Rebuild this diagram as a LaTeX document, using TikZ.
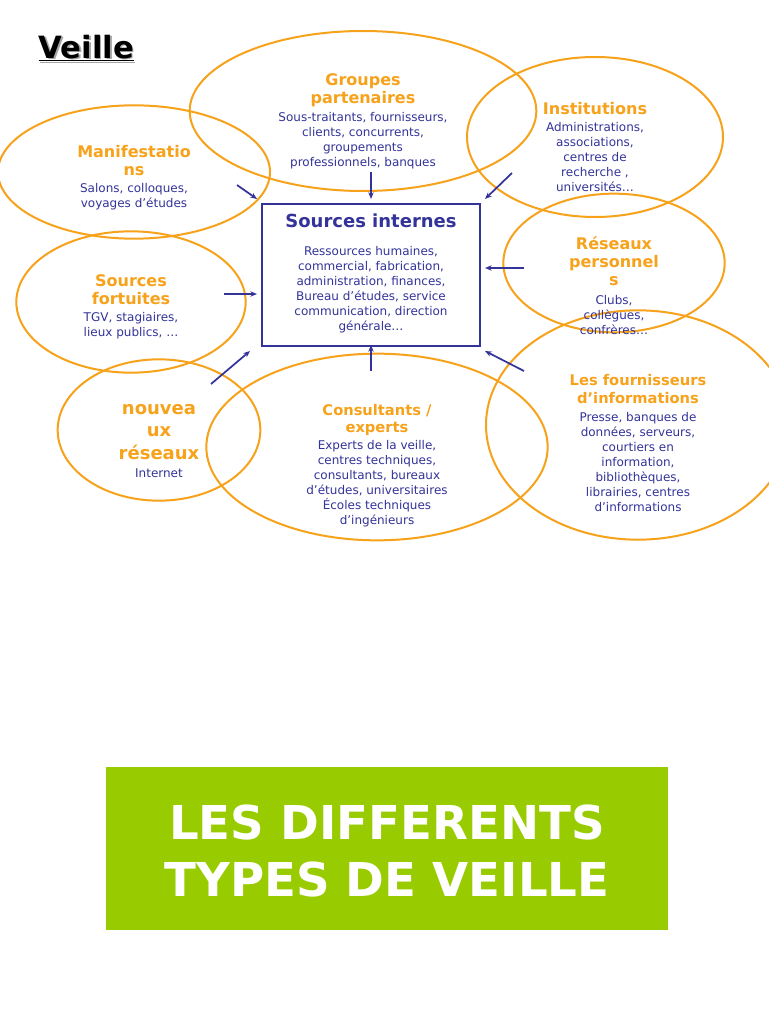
\documentclass[tikz,border=0pt]{standalone}
\usepackage{fontspec}
\setmainfont{DejaVu Sans}
\usetikzlibrary{shapes.geometric,arrows.meta}
\definecolor{org}{HTML}{F7A21B}
\definecolor{blu}{HTML}{333399}
\definecolor{grn}{HTML}{99CC00}
\begin{document}
\begin{tikzpicture}[x=0.75pt,y=-0.75pt,
 ell/.style={draw=org,line width=1.5pt,ellipse,inner sep=0pt},
 ttl/.style={text=org,font=\bfseries\fontsize{12}{13.5}\selectfont,align=center},
 txt/.style={text=blu,font=\fontsize{9}{11.3}\selectfont,align=center},
 arr/.style={draw=blu,line width=1.3pt,-{Stealth[length=5pt,width=4pt]}}]
\useasboundingbox (0,0) rectangle (768,1024);
\fill[white] (0,0) rectangle (768,1024);
\node[anchor=west,text=gray!70,font=\bfseries\fontsize{23}{26}\selectfont] (vs) at (35.5,49.5) {\underline{Veille}};
\node[anchor=west,font=\bfseries\fontsize{23}{26}\selectfont] (v) at (34,48) {\underline{Veille}};
% ellipses
\node[ell,minimum width=260,minimum height=120] (gp) at (363,111) {};
\node[ell,minimum width=192,minimum height=120] (in) at (595,137) {};
\node[ell,minimum width=204,minimum height=100] (ma) at (134,172) {};
\node[ell,minimum width=166,minimum height=104] (rp) at (614,263) {};
\node[ell,minimum width=172,minimum height=106] (sf) at (131,302) {};
\node[ell,minimum width=152,minimum height=106] (nr) at (159,430) {};
\node[ell,minimum width=256,minimum height=140] (co) at (377,447) {};
\node[ell,minimum width=228,minimum height=172] (fo) at (638,425) {};
% texts
\node[ttl] (gpt) at (363,90) {Groupes\\partenaires};
\node[txt] (gpx) at (363,141) {Sous-traitants, fournisseurs,\\clients, concurrents,\\groupements\\professionnels, banques};
\node[ttl] (int) at (595,109) {Institutions};
\node[txt] (inx) at (595,157) {Administrations,\\associations,\\centres de\\recherche ,\\universités…};
\node[ttl] (mat) at (134,161) {Manifestatio\\ns};
\node[txt] (max) at (134,197) {Salons, colloques,\\voyages d’études};
\node[ttl] (rpt) at (614,261) {Réseaux\\personnel\\s};
\node[txt] (rpx) at (614,315) {Clubs,\\collègues,\\confrères…};
\node[ttl] (sft) at (131,290) {Sources\\fortuites};
\node[txt] (sfx) at (131,326) {TGV, stagiaires,\\lieux publics, …};
\node[ttl,font=\bfseries\fontsize{13.5}{17}\selectfont] (nrt) at (159,432) {nouvea\\ux\\réseaux};
\node[txt] (nrx) at (159,473) {Internet};
\node[ttl,font=\bfseries\fontsize{11}{12.5}\selectfont] (cot) at (377,420) {Consultants /\\experts};
\node[txt] (cox) at (377,484) {Experts de la veille,\\centres techniques,\\consultants, bureaux\\d’études, universitaires\\Écoles techniques\\d’ingénieurs};
\node[ttl,font=\bfseries\fontsize{11}{14}\selectfont] (fot) at (638,389) {Les fournisseurs\\d’informations};
\node[txt] (fox) at (638,462) {Presse, banques de\\données, serveurs,\\courtiers en\\information,\\bibliothèques,\\librairies, centres\\d’informations};
% box
\draw[blu,line width=1.5pt] (262,204) rectangle (480,346);
\node[text=blu,font=\bfseries\fontsize{13.5}{16}\selectfont] (si) at (371,221) {Sources internes};
\node[txt] (six) at (371,290) {Ressources humaines,\\commercial, fabrication,\\administration, finances,\\Bureau d’études, service\\communication, direction\\générale…};
% arrows
\coordinate (a1) at (371,172); \coordinate (b1) at (371,199);
\coordinate (a2) at (237,185); \coordinate (b2) at (257,199);
\coordinate (a3) at (512,173); \coordinate (b3) at (485,199);
\coordinate (a4) at (524,268); \coordinate (b4) at (485,268);
\coordinate (a5) at (224,294); \coordinate (b5) at (257,294);
\coordinate (a6) at (211,384); \coordinate (b6) at (250,351);
\coordinate (a7) at (371,371); \coordinate (b7) at (371,345);
\coordinate (a8) at (524,371); \coordinate (b8) at (485,351);
\foreach \i in {1,...,8} \draw[arr] (a\i) -- (b\i);
% green
\fill[grn] (106,767) rectangle (668,930);
\node[text=white,font=\bfseries\fontsize{35}{43}\selectfont,align=center] (gt) at (387,851) {LES DIFFERENTS\\TYPES DE VEILLE};
\end{tikzpicture}
\end{document}
